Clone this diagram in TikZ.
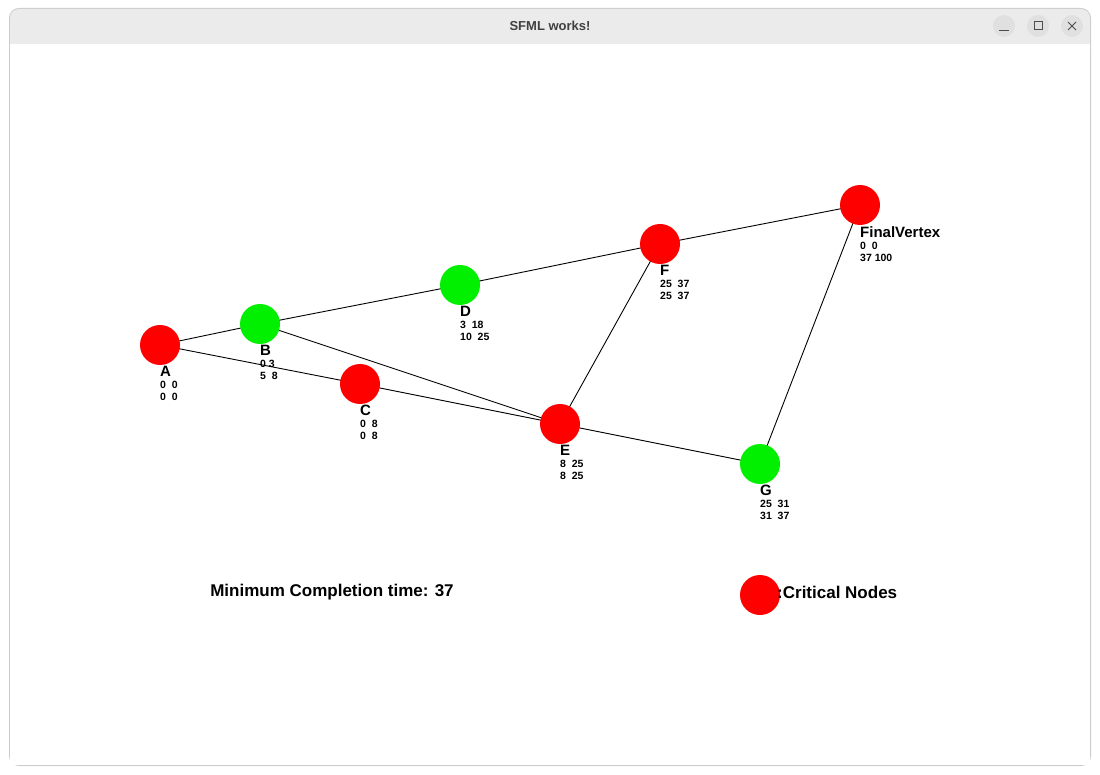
\documentclass[tikz,border=0pt]{standalone}
\usepackage{fontspec}
\setmainfont{Liberation Sans}
\usetikzlibrary{positioning,backgrounds}
\pgfdeclarelayer{window}
\pgfsetlayers{window,background,main}
\definecolor{sfred}{RGB}{255,0,0}
\definecolor{sfgreen}{RGB}{0,240,0}
\definecolor{barbg}{RGB}{235,235,235}
\tikzset{
  crit/.style={circle, fill=sfred, minimum size=40pt, inner sep=0pt},
  noncrit/.style={circle, fill=sfgreen, minimum size=40pt, inner sep=0pt},
  vname/.style={anchor=north west, inner sep=0pt, font=\bfseries\fontsize{15}{15}\selectfont},
  vtimes/.style={anchor=north west, inner sep=0pt, align=left, font=\bfseries\fontsize{10.5}{12}\selectfont},
  edge/.style={draw=black, line width=0.9pt}
}
\newcommand{\vertexlabel}[4]{%
\node[vname] (#1name) at ([yshift=-1pt]#1.south) {#2};
\node[vtimes] (#1times) at ([yshift=-4pt]#1name.south west) {#3\\#4};}
\begin{document}
\begin{tikzpicture}[x=1pt,y=-1pt]
\useasboundingbox (0,0) rectangle (1100,775);
% window
\begin{pgfonlayer}{window}
\fill[gray!40, rounded corners=10] (9,8) rectangle (1091,766);
\fill[barbg, rounded corners=9] (10,9) rectangle (1090,60);
\fill[white] (10,44) rectangle (1090,765);
\foreach \bx in {1004,1038,1072}
  \fill[black!12] (\bx,26) circle (11);
\draw[black!70, line width=1pt] (999,31) -- (1009,31);
\draw[black!70, line width=1pt] (1034,22) rectangle (1042,30);
\draw[black!70, line width=1pt] (1068,22) -- (1076,30) (1068,30) -- (1076,22);
\end{pgfonlayer}
\node[font=\bfseries\fontsize{13}{13}\selectfont, text=black!75] (title) at (550,26) {SFML works!};
% vertices
\node[crit] (A) at (160,345) {};
\node[noncrit] (B) at (260,324) {};
\node[crit] (C) at (360,384) {};
\node[noncrit] (D) at (460,285) {};
\node[crit] (E) at (560,424) {};
\node[crit] (F) at (660,244) {};
\node[noncrit] (G) at (760,464) {};
\node[crit] (FV) at (860,205) {};
% edges
\begin{pgfonlayer}{background}
\foreach \u/\v in {A/B, B/D, D/F, F/FV, A/C, C/E, B/E, E/F, E/G, G/FV}
  \draw[edge] (\u.center) -- (\v.center);
\end{pgfonlayer}
\vertexlabel{A}{A}{0\ \ 0}{0\ \ 0}
\vertexlabel{B}{B}{0\ 3}{5\ \ 8}
\vertexlabel{C}{C}{0\ \ 8}{0\ \ 8}
\vertexlabel{D}{D}{3\ \ 18}{10\ \ 25}
\vertexlabel{E}{E}{8\ \ 25}{8\ \ 25}
\vertexlabel{F}{F}{25\ \ 37}{25\ \ 37}
\vertexlabel{G}{G}{25\ \ 31}{31\ \ 37}
\node[vname] (FVname) at ([yshift=-1pt]FV.south) {FinalVertex};
\node[vtimes] (FVtimes) at ([yshift=-4pt]FVname.south west) {0\ \ 0\\37 100};
% legend
\node[font=\bfseries\fontsize{17}{17}\selectfont] (mintime) at (332,592) {Minimum Completion time: 37};
\node[crit] (legend) at (760,595) {};
\node[anchor=west, inner sep=0pt, font=\bfseries\fontsize{17}{17}\selectfont] (legendtext) at (777,592) {:Critical Nodes};
\end{tikzpicture}
\end{document}
